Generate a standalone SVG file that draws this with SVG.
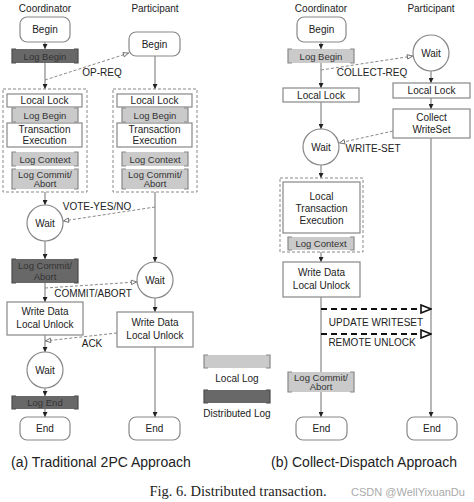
<svg xmlns="http://www.w3.org/2000/svg" width="474" height="502" viewBox="0 0 474 502">
<defs>
<style>
text{font-family:"Liberation Sans",Arial,sans-serif;fill:#222;text-anchor:middle}
.h{font-size:10px}
.t{font-size:10px}
.lt{font-size:9.5px;fill:#333}
.m{font-size:10px}
.box{fill:#fff;stroke:#888;stroke-width:1.2}
.rr{fill:#fff;stroke:#888;stroke-width:1.2}
.grp{fill:none;stroke:#888;stroke-width:1;stroke-dasharray:3,2}
.ll{fill:#cacaca}
.llb{fill:none;stroke:#888;stroke-width:1.2}
.dl{fill:#686868}
.dlb{fill:none;stroke:#4a4a4a;stroke-width:1.2}
.ln{fill:none;stroke:#888;stroke-width:1.2}
.msg{fill:none;stroke:#888;stroke-width:1;stroke-dasharray:3,2}
.big{fill:none;stroke:#111;stroke-width:2;stroke-dasharray:6,4}
.cap{font-size:14px}
</style>
<marker id="arr" viewBox="0 0 6 6" refX="6" refY="3" markerWidth="5" markerHeight="5" orient="auto" markerUnits="userSpaceOnUse"><path d="M0,0 L6,3 L0,6 z" fill="#222"/></marker>
<marker id="open" viewBox="0 0 8 8" refX="7.5" refY="4" markerWidth="7" markerHeight="7" orient="auto" markerUnits="userSpaceOnUse"><path d="M1,1.5 L7,4 L1,6.5 z" fill="#fff" stroke="#666" stroke-width="1"/></marker>
<marker id="openbig" viewBox="0 0 12 10" refX="11" refY="5" markerWidth="12" markerHeight="10" orient="auto" markerUnits="userSpaceOnUse"><path d="M1,1 L11,5 L1,9 z" fill="#fff" stroke="#111" stroke-width="1.6"/></marker>
</defs>

<!-- Headers -->
<g id="headers">
<text class="h" x="45" y="12">Coordinator</text>
<text class="h" x="155" y="12">Participant</text>
<text class="h" x="321" y="12">Coordinator</text>
<text class="h" x="431" y="12">Participant</text>
</g>

<!-- Connectors -->
<g id="connectors">
<!-- (a) coordinator -->
<line class="ln" x1="45" y1="42" x2="45" y2="49" marker-end="url(#arr)"/>
<line class="ln" x1="45" y1="63" x2="45" y2="89" marker-end="url(#arr)"/>
<line class="ln" x1="45" y1="192" x2="45" y2="205" marker-end="url(#arr)"/>
<line class="ln" x1="45" y1="241" x2="45" y2="259" marker-end="url(#arr)"/>
<line class="ln" x1="45" y1="283" x2="45" y2="302" marker-end="url(#arr)"/>
<line class="ln" x1="45" y1="335" x2="45" y2="352" marker-end="url(#arr)"/>
<line class="ln" x1="45" y1="388" x2="45" y2="396" marker-end="url(#arr)"/>
<line class="ln" x1="45" y1="409" x2="45" y2="417" marker-end="url(#arr)"/>
<!-- (a) participant -->
<line class="ln" x1="155" y1="56" x2="155" y2="89" marker-end="url(#arr)"/>
<line class="ln" x1="155" y1="192" x2="155" y2="262" marker-end="url(#arr)"/>
<line class="ln" x1="155" y1="298" x2="155" y2="312" marker-end="url(#arr)"/>
<line class="ln" x1="155" y1="347" x2="155" y2="417" marker-end="url(#arr)"/>
<!-- (a) messages -->
<line class="msg" x1="45" y1="80" x2="129" y2="53" marker-end="url(#open)"/>
<line class="msg" x1="155" y1="207" x2="63" y2="221" marker-end="url(#open)"/>
<line class="msg" x1="45" y1="288" x2="137" y2="282" marker-end="url(#open)"/>
<line class="msg" x1="117" y1="333" x2="45" y2="341" marker-end="url(#open)"/>
<!-- (b) coordinator -->
<line class="ln" x1="321" y1="42" x2="321" y2="49" marker-end="url(#arr)"/>
<line class="ln" x1="321" y1="63" x2="321" y2="88" marker-end="url(#arr)"/>
<line class="ln" x1="321" y1="102" x2="321" y2="129" marker-end="url(#arr)"/>
<line class="ln" x1="321" y1="165" x2="321" y2="178" marker-end="url(#arr)"/>
<line class="ln" x1="321" y1="252" x2="321" y2="262" marker-end="url(#arr)"/>
<line class="ln" x1="321" y1="297" x2="321" y2="417" marker-end="url(#arr)"/>
<!-- (b) participant -->
<line class="ln" x1="431" y1="71" x2="431" y2="83" marker-end="url(#arr)"/>
<line class="ln" x1="431" y1="98" x2="431" y2="109" marker-end="url(#arr)"/>
<line class="ln" x1="431" y1="138" x2="431" y2="417" marker-end="url(#arr)"/>
<!-- (b) messages -->
<line class="msg" x1="321" y1="70" x2="413" y2="56" marker-end="url(#open)"/>
<line class="msg" x1="393" y1="131" x2="339" y2="143" marker-end="url(#open)"/>
<line class="big" x1="321" y1="309" x2="431" y2="309" marker-end="url(#openbig)"/>
<line class="big" x1="321" y1="334" x2="431" y2="334" marker-end="url(#openbig)"/>
<!-- labels -->
<text class="m" x="102" y="76">OP-REQ</text>
<text class="m" x="97" y="210">VOTE-YES/NO</text>
<text class="m" x="93" y="297">COMMIT/ABORT</text>
<text class="m" x="92" y="347">ACK</text>
<text class="m" x="372" y="76">COLLECT-REQ</text>
<text class="m" x="373" y="152">WRITE-SET</text>
<text class="m" x="376" y="326">UPDATE WRITESET</text>
<text class="m" x="372" y="346">REMOTE UNLOCK</text>
</g>

<!-- (a) Coordinator nodes -->
<g id="a-coord-begin"><rect class="rr" x="20" y="17" width="50" height="25" rx="7"/><text class="t" x="45" y="33">Begin</text></g>
<g id="a-coord-logbegin"><rect class="dl" x="12" y="49" width="66" height="14"/><path class="dlb" d="M16,49H12V63H16M74,49H78V63H74"/><text class="lt" x="45" y="59.5">Log Begin</text></g>
<g id="a-coord-group"><rect class="grp" x="3" y="89" width="84" height="103"/>
<rect class="box" x="7" y="94" width="75" height="13"/><text class="t" x="44.5" y="104">Local Lock</text>
<rect class="ll" x="12" y="108" width="66" height="14"/><path class="llb" d="M16,108H12V122H16M74,108H78V122H74"/><text class="lt" x="45" y="118.5">Log Begin</text>
<rect class="box" x="7" y="123" width="75" height="24"/><text class="t" x="44.5" y="133">Transaction</text><text class="t" x="44.5" y="144">Execution</text>
<rect class="ll" x="12" y="152" width="66" height="14"/><path class="llb" d="M16,152H12V166H16M74,152H78V166H74"/><text class="lt" x="45" y="162.5">Log Context</text>
<rect class="ll" x="12" y="169" width="66" height="20"/><path class="llb" d="M16,169H12V189H16M74,169H78V189H74"/><text class="lt" x="45" y="177.5">Log Commit/</text><text class="lt" x="45" y="187">Abort</text>
</g>
<g id="a-coord-wait1"><circle class="box" cx="45" cy="223" r="18"/><text class="t" x="45" y="227">Wait</text></g>
<g id="a-coord-logcommit"><rect class="dl" x="12" y="259" width="66" height="24"/><path class="dlb" d="M16,259H12V283H16M74,259H78V283H74"/><text class="lt" x="45" y="269">Log Commit/</text><text class="lt" x="45" y="279.5">Abort</text></g>
<g id="a-coord-write"><rect class="box" x="7" y="302" width="76" height="33"/><text class="t" x="45" y="315">Write Data</text><text class="t" x="45" y="328">Local Unlock</text></g>
<g id="a-coord-wait2"><circle class="box" cx="45" cy="370" r="18"/><text class="t" x="45" y="374">Wait</text></g>
<g id="a-coord-logend"><rect class="dl" x="12" y="396" width="66" height="13"/><path class="dlb" d="M16,396H12V409H16M74,396H78V409H74"/><text class="lt" x="45" y="406">Log End</text></g>
<g id="a-coord-end"><rect class="rr" x="20" y="417" width="50" height="23" rx="7"/><text class="t" x="45" y="432">End</text></g>

<!-- (a) Participant nodes -->
<g id="a-part-begin"><rect class="rr" x="129" y="32" width="51" height="24" rx="7"/><text class="t" x="154.5" y="48">Begin</text></g>
<g id="a-part-group"><rect class="grp" x="113" y="89" width="84" height="103"/>
<rect class="box" x="117" y="94" width="75" height="13"/><text class="t" x="154.5" y="104">Local Lock</text>
<rect class="ll" x="122" y="108" width="66" height="14"/><path class="llb" d="M126,108H122V122H126M184,108H188V122H184"/><text class="lt" x="155" y="118.5">Log Begin</text>
<rect class="box" x="117" y="123" width="75" height="24"/><text class="t" x="154.5" y="133">Transaction</text><text class="t" x="154.5" y="144">Execution</text>
<rect class="ll" x="122" y="152" width="66" height="14"/><path class="llb" d="M126,152H122V166H126M184,152H188V166H184"/><text class="lt" x="155" y="162.5">Log Context</text>
<rect class="ll" x="122" y="169" width="66" height="20"/><path class="llb" d="M126,169H122V189H126M184,169H188V189H184"/><text class="lt" x="155" y="177.5">Log Commit/</text><text class="lt" x="155" y="187">Abort</text>
</g>
<g id="a-part-wait"><circle class="box" cx="155" cy="280" r="18"/><text class="t" x="155" y="284">Wait</text></g>
<g id="a-part-write"><rect class="box" x="117" y="312" width="76" height="35"/><text class="t" x="155" y="326">Write Data</text><text class="t" x="155" y="339">Local Unlock</text></g>
<g id="a-part-end"><rect class="rr" x="129" y="417" width="51" height="23" rx="7"/><text class="t" x="154.5" y="432">End</text></g>

<!-- Legend -->
<g id="legend-local"><rect class="ll" x="204" y="355" width="66" height="13"/><path class="llb" d="M208,355H204V368H208M266,355H270V368H266"/><text class="t" x="237" y="382">Local Log</text></g>
<g id="legend-dist"><rect class="dl" x="204" y="390" width="66" height="13"/><path class="dlb" d="M208,390H204V403H208M266,390H270V403H266"/><text class="t" x="237" y="417">Distributed Log</text></g>

<!-- (b) Coordinator nodes -->
<g id="b-coord-begin"><rect class="rr" x="297" y="17" width="49" height="25" rx="7"/><text class="t" x="321.5" y="33">Begin</text></g>
<g id="b-coord-logbegin"><rect class="ll" x="288" y="49" width="66" height="14"/><path class="llb" d="M292,49H288V63H292M350,49H354V63H350"/><text class="lt" x="321" y="59.5">Log Begin</text></g>
<g id="b-coord-lock"><rect class="box" x="283" y="88" width="76" height="14"/><text class="t" x="321" y="98.5">Local Lock</text></g>
<g id="b-coord-wait"><circle class="box" cx="321" cy="147" r="18"/><text class="t" x="321" y="151">Wait</text></g>
<g id="b-coord-group"><rect class="grp" x="280" y="178" width="83" height="74"/>
<rect class="box" x="283" y="182" width="77" height="51"/><text class="t" x="321.5" y="200">Local</text><text class="t" x="321.5" y="212">Transaction</text><text class="t" x="321.5" y="224">Execution</text>
<rect class="ll" x="288" y="237" width="66" height="13"/><path class="llb" d="M292,237H288V250H292M350,237H354V250H350"/><text class="lt" x="321" y="247">Log Context</text>
</g>
<g id="b-coord-write"><rect class="box" x="283" y="262" width="77" height="35"/><text class="t" x="321.5" y="276">Write Data</text><text class="t" x="321.5" y="289">Local Unlock</text></g>
<g id="b-coord-logcommit"><rect class="ll" x="288" y="372" width="66" height="20"/><path class="llb" d="M292,372H288V392H292M350,372H354V392H350"/><text class="lt" x="321" y="380.5">Log Commit/</text><text class="lt" x="321" y="390">Abort</text></g>
<g id="b-coord-end"><rect class="rr" x="296" y="417" width="51" height="23" rx="7"/><text class="t" x="321.5" y="432">End</text></g>

<!-- (b) Participant nodes -->
<g id="b-part-wait"><circle class="box" cx="431" cy="53" r="18"/><text class="t" x="431" y="57">Wait</text></g>
<g id="b-part-lock"><rect class="box" x="393" y="83" width="77" height="15"/><text class="t" x="431.5" y="94">Local Lock</text></g>
<g id="b-part-collect"><rect class="box" x="393" y="109" width="77" height="29"/><text class="t" x="431.5" y="121">Collect</text><text class="t" x="431.5" y="133">WriteSet</text></g>
<g id="b-part-end"><rect class="rr" x="407" y="417" width="50" height="23" rx="7"/><text class="t" x="432" y="432">End</text></g>

<!-- Captions -->
<g id="captions">
<text class="cap" x="101" y="467">(a) Traditional 2PC Approach</text>
<text class="cap" x="364" y="467">(b) Collect-Dispatch Approach</text>
<text x="238" y="496" style="font-family:'Liberation Serif','Times New Roman',serif;font-size:14.5px;fill:#222">Fig. 6.  Distributed transaction.</text>
<text x="408" y="496" style="font-size:11px;fill:#aaa">CSDN @WellYixuanDu</text>
</g>
</svg>
